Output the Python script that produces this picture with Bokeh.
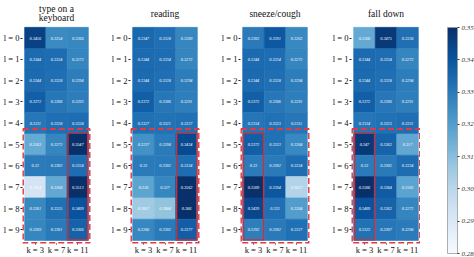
from bokeh.plotting import figure
from bokeh.models import (Range1d, FixedTicker, ColumnDataSource, LinearColorMapper,
                          ColorBar, Label, PrintfTickFormatter)
from bokeh.layouts import row
from bokeh.palettes import Blues256
from bokeh.embed import file_html
from bokeh.resources import INLINE
from bokeh.core.properties import value

# ---------------- data ----------------
titles = [["type on a", "keyboard"], ["reading"], ["sneeze/cough"], ["fall down"]]
k_labels = ["k = 3", "k = 7", "k = 11"]
l_labels = ["l = 0", "l = 1", "l = 2", "l = 3", "l = 4",
            "l = 5", "l = 6", "l = 7", "l = 8", "l = 9"]

type_on_keyboard = [
    [0.3456, 0.3254, 0.3266],
    [0.3344, 0.3334, 0.3272],
    [0.3344, 0.3328, 0.3294],
    [0.3372, 0.3306, 0.3293],
    [0.3311, 0.3328, 0.3334],
    [0.3163, 0.3272, 0.3547],
    [0.3300, 0.3302, 0.3334],
    [0.2924, 0.3168, 0.3513],
    [0.3261, 0.3325, 0.3409],
    [0.3269, 0.3301, 0.3366],
]
reading = [
    [0.3347, 0.3328, 0.3269],
    [0.3344, 0.3334, 0.3272],
    [0.3344, 0.3328, 0.3294],
    [0.3372, 0.3306, 0.3291],
    [0.3327, 0.3321, 0.3327],
    [0.3237, 0.3298, 0.3434],
    [0.3300, 0.3302, 0.3334],
    [0.3180, 0.3270, 0.3562],
    [0.3057, 0.3084, 0.3860],
    [0.3266, 0.3302, 0.3377],
]
sneeze_cough = [
    [0.3303, 0.3391, 0.3263],
    [0.3344, 0.3334, 0.3272],
    [0.3344, 0.3328, 0.3294],
    [0.3372, 0.3306, 0.3291],
    [0.3314, 0.3323, 0.3311],
    [0.3372, 0.3323, 0.3264],
    [0.3300, 0.3302, 0.3334],
    [0.3509, 0.3394, 0.3017],
    [0.3439, 0.3330, 0.3204],
    [0.3292, 0.3302, 0.3327],
]
fall_down = [
    [0.3166, 0.3475, 0.3328],
    [0.3344, 0.3334, 0.3272],
    [0.3344, 0.3328, 0.3294],
    [0.3372, 0.3306, 0.3291],
    [0.3314, 0.3323, 0.3331],
    [0.3470, 0.3362, 0.3170],
    [0.3300, 0.3302, 0.3334],
    [0.3506, 0.3384, 0.3183],
    [0.3409, 0.3362, 0.3272],
    [0.3323, 0.3307, 0.3298],
]
panels = [type_on_keyboard, reading, sneeze_cough, fall_down]

highlight_rows = [5, 9]          # first / last l-row inside dashed box
highlight_cols = [2, 2, 0, 0]    # column boxed with solid line per panel
cbar_ticks = [0.28, 0.29, 0.30, 0.31, 0.32, 0.33, 0.34, 0.35]
cbar_low, cbar_high = 0.28, 0.35

# ---------------- style ----------------
FONT = "Liberation Serif"
RED_DASH = "#e23a44"
RED_SOLID = "#c9303c"
mapper = LinearColorMapper(palette=Blues256[::-1], low=cbar_low, high=cbar_high)

widths = [108, 110, 111, 91]
left_b = [19, 20, 20, 20]
right_b = [18, 19, 20, 0]
Y_TOP = -1.76          # extra room above the heatmap for the panel titles
TITLE_Y_ONE = [-1.15]
TITLE_Y_TWO = [-1.34, -0.94]


def fmt(v):
    s = f"{v:.4f}".rstrip("0")
    return s


def make_panel(i):
    vals = panels[i]
    xs, ys, vs, ts = [], [], [], []
    for li, rv in enumerate(vals):
        for ki, v in enumerate(rv):
            xs.append(ki)
            ys.append(li)
            vs.append(v)
            ts.append(fmt(v))
    src = ColumnDataSource(dict(x=xs, y=ys, v=vs, t=ts))
    nk, nl = len(k_labels), len(l_labels)
    p = figure(width=widths[i], height=257, output_backend="svg", toolbar_location=None,
               x_range=Range1d(-0.6, nk - 0.4), y_range=Range1d(nl - 0.36, Y_TOP),
               min_border_left=left_b[i], min_border_right=right_b[i],
               min_border_top=0, min_border_bottom=8)
    p.rect(x="x", y="y", width=1, height=1, source=src,
           fill_color={"field": "v", "transform": mapper},
           line_color={"field": "v", "transform": mapper}, line_width=0.6)
    p.text(x="x", y="y", text="t", source=src, text_color="white",
           text_font=value(FONT), text_font_style="italic", text_font_size="4.2px",
           text_align="center", text_baseline="middle")
    r0, r1 = highlight_rows
    # dashed box around rows r0..r1, all columns
    p.quad(left=[-0.58], right=[nk - 0.42], top=[r0 - 0.73], bottom=[r1 + 0.62],
           fill_color=None, line_color=RED_DASH, line_width=2, line_dash="6 3")
    c = highlight_cols[i]
    p.quad(left=[c - 0.46], right=[c + 0.47], top=[r0 - 0.55], bottom=[r1 + 0.47],
           fill_color=None, line_color=RED_SOLID, line_width=1.4)

    p.grid.visible = False
    p.outline_line_color = None
    p.xaxis.ticker = FixedTicker(ticks=list(range(nk)))
    p.xaxis.major_label_overrides = {j: k_labels[j] for j in range(nk)}
    p.yaxis.ticker = FixedTicker(ticks=list(range(nl)))
    p.yaxis.major_label_overrides = {j: l_labels[j] for j in range(nl)}
    for ax in (p.xaxis[0], p.yaxis[0]):
        ax.axis_line_color = None
        ax.minor_tick_line_color = None
        ax.major_tick_line_color = "#222222"
        ax.major_tick_in = 0
        ax.major_tick_out = 2
        ax.major_label_standoff = 1
        ax.major_label_text_font = FONT
        ax.major_label_text_font_size = "8.5px"
        ax.major_label_text_color = "#111111"
    p.xaxis.major_label_standoff = 0
    p.xaxis.major_tick_out = 1

    lines = titles[i]
    ypos = TITLE_Y_TWO if len(lines) > 1 else TITLE_Y_ONE
    for t, yy in zip(lines, ypos):
        p.add_layout(Label(x=(nk - 1) / 2, y=yy, text=t, text_align="center",
                           text_baseline="middle", text_font=FONT,
                           text_font_size="9.5px", text_color="#111111"))
    return p


figs = [make_panel(i) for i in range(4)]

# colour-bar figure: empty frame, bar placed from the frame's bottom-left corner
cbf = figure(width=54, height=257, output_backend="svg", toolbar_location=None,
             x_axis_location=None, y_axis_location=None, min_border=0)
cbf.outline_line_color = None
cbf.grid.visible = False
cb = ColorBar(color_mapper=mapper, ticker=FixedTicker(ticks=cbar_ticks),
              formatter=PrintfTickFormatter(format="%.2f"),
              width=10, height=226, location=(27, -10), padding=0, margin=0,
              bar_line_color="#9a9a9a", bar_line_width=0.8,
              major_tick_line_color="#333333", major_tick_in=0, major_tick_out=2,
              minor_tick_line_color=None, label_standoff=2,
              major_label_text_font=FONT, major_label_text_font_style="italic",
              major_label_text_font_size="7px", major_label_text_color="#333333",
              background_fill_alpha=0, border_line_color=None)
cbf.add_layout(cb)

layout = row(*figs, cbf)
open("out.html", "w").write(file_html(layout, INLINE))
